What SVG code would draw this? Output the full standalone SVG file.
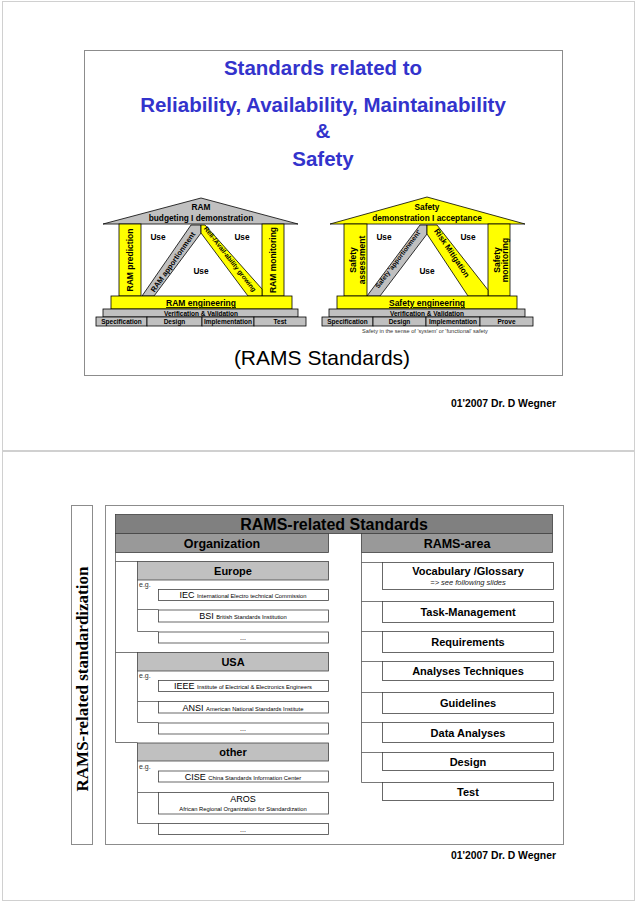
<svg xmlns="http://www.w3.org/2000/svg" width="638" height="903" viewBox="0 0 638 903">
<style>
text{font-family:"Liberation Sans",Arial,sans-serif;fill:#000}
.b{font-weight:bold}
.mid{text-anchor:middle}
.title{font-size:20.5px;font-weight:bold;fill:#3333cc;text-anchor:middle}
.page{fill:#fff;stroke:#d0d0d0;stroke-width:1}
.frame{fill:none;stroke:#8c8c8c;stroke-width:1}
.ln{fill:none;stroke:#000;stroke-width:0.8}
.yel{fill:#ffff00;stroke:#000;stroke-width:0.8}
.gry{fill:#c0c0c0;stroke:#000;stroke-width:0.8}
.foot{font-size:10.4px;font-weight:bold;text-anchor:end}
.hs{font-size:7px;font-weight:bold;text-anchor:middle}
.use{font-size:8.3px;font-weight:bold;text-anchor:middle}
.box{fill:#fff;stroke:#444;stroke-width:0.8}
.hdr{fill:#c0c0c0;stroke:#444;stroke-width:0.8}
.br{fill:none;stroke:#555;stroke-width:0.8}
.rc{font-size:11px;font-weight:bold;text-anchor:middle}
.org{font-size:9px;text-anchor:middle}
.sub{font-size:5.8px}
.eg{font-size:7px;fill:#333}
</style>
<rect class="page" x="2.5" y="1.5" width="632" height="449"/>
<rect class="page" x="2.5" y="451.5" width="632" height="449"/>

<!-- Slide 1 -->
<rect class="frame" x="84.5" y="50.5" width="478" height="325"/>
<g id="title1">
<text class="title" x="323" y="74.5">Standards related to</text>
<text class="title" x="323" y="111.5">Reliability, Availability, Maintainability</text>
<text class="title" x="323" y="137.5">&amp;</text>
<text class="title" x="323" y="165.5">Safety</text>
</g>

<g id="ram-house">
<polygon class="gry" points="103,224 201,198 298,224"/>
<text class="hs" x="201" y="210" style="font-size:8.3px">RAM</text>
<text class="hs" x="201" y="221" style="font-size:8.3px">budgeting I demonstration</text>
<rect class="yel" x="119" y="224" width="22" height="72"/>
<rect class="yel" x="262" y="224" width="22" height="72"/>
<polygon class="gry" points="142,296 191,225 201,225 201,233 154,296"/>
<polygon class="yel" points="201,225 205,225 262,289 262,296 248,296 201,233"/>
<text class="b mid" style="font-size:8.5px" transform="translate(130,260) rotate(-90)" y="3">RAM prediction</text>
<text class="b mid" style="font-size:8.5px" transform="translate(273,260) rotate(-90)" y="3">RAM monitoring</text>
<text class="b mid" style="font-size:7.5px" transform="translate(173,262) rotate(-55)" y="2.5">RAM apportionment</text>
<text class="b mid" style="font-size:6.6px" transform="translate(230,259) rotate(52)" y="2.3">Reli-/Avail-ability growing</text>
<text class="use" x="158" y="240">Use</text>
<text class="use" x="242" y="240">Use</text>
<text class="use" x="201" y="274">Use</text>
<rect class="yel" x="111" y="296" width="181" height="13"/>
<text class="b mid" style="font-size:8.5px;text-decoration:underline" x="201" y="306">RAM engineering</text>
<rect class="gry" x="103" y="309" width="195" height="8"/>
<text class="hs" style="font-size:6.5px" x="201" y="315.5">Verification &amp; Validation</text>
<rect class="gry" x="96" y="317" width="51" height="9"/>
<rect class="gry" x="147" y="317" width="55" height="9"/>
<rect class="gry" x="202" y="317" width="52" height="9"/>
<rect class="gry" x="254" y="317" width="52" height="9"/>
<text class="hs" style="font-size:6.5px" x="121.5" y="324">Specification</text>
<text class="hs" style="font-size:6.5px" x="174.5" y="324">Design</text>
<text class="hs" style="font-size:6.5px" x="228" y="324">Implementation</text>
<text class="hs" style="font-size:6.5px" x="280" y="324">Test</text>
</g>

<g id="safety-house">
<polygon class="yel" points="330,224 427,197 525,224"/>
<text class="hs" x="427" y="210" style="font-size:8.3px">Safety</text>
<text class="hs" x="427" y="221" style="font-size:8.3px">demonstration I acceptance</text>
<rect class="yel" x="344" y="224" width="23" height="72"/>
<rect class="yel" x="488" y="224" width="22" height="72"/>
<polygon class="gry" points="367,296 420,225 427,225 427,234 380,296"/>
<polygon class="yel" points="427,225 437,225 488,290 488,296 468,296 427,234"/>
<g transform="translate(355.5,260) rotate(-90)">
<text class="b mid" style="font-size:8.5px" y="0.5">Safety</text>
<text class="b mid" style="font-size:8.5px" y="9">assessment</text>
</g>
<g transform="translate(499,260) rotate(-90)">
<text class="b mid" style="font-size:8.5px" y="0.5">Safety</text>
<text class="b mid" style="font-size:8.5px" y="9">monitoring</text>
</g>
<text class="b mid" style="font-size:6.6px" transform="translate(398,259) rotate(-53)" y="2.3">Safety 'apportionment'</text>
<text class="b mid" style="font-size:8px" transform="translate(452,253) rotate(56)" y="2.8">Risk Mitigation</text>
<text class="use" x="384" y="240">Use</text>
<text class="use" x="468" y="240">Use</text>
<text class="use" x="427" y="274">Use</text>
<rect class="yel" x="337" y="296" width="180" height="13"/>
<text class="b mid" style="font-size:8.5px;text-decoration:underline" x="427" y="306">Safety engineering</text>
<rect class="gry" x="329" y="309" width="196" height="8"/>
<text class="hs" style="font-size:6.5px" x="427" y="315.5">Verification &amp; Validation</text>
<rect class="gry" x="322" y="317" width="51" height="9"/>
<rect class="gry" x="373" y="317" width="53" height="9"/>
<rect class="gry" x="426" y="317" width="54" height="9"/>
<rect class="gry" x="480" y="317" width="53" height="9"/>
<text class="hs" style="font-size:6.5px" x="347.5" y="324">Specification</text>
<text class="hs" style="font-size:6.5px" x="399.5" y="324">Design</text>
<text class="hs" style="font-size:6.5px" x="453" y="324">Implementation</text>
<text class="hs" style="font-size:6.5px" x="506.5" y="324">Prove</text>
<text class="mid" style="font-size:5.6px;fill:#333" x="425" y="333">Safety in the sense of 'system' or 'functional' safety</text>
</g>

<text class="mid" style="font-size:21px" x="322" y="364.5">(RAMS Standards)</text>
<text class="foot" x="556" y="407">01'2007 Dr. D Wegner</text>

<!-- Slide 2 -->
<rect class="frame" x="105.5" y="505.5" width="458" height="339"/>
<g id="side-label">
<rect class="frame" x="71.5" y="505.5" width="21" height="339"/>
<text style="font-family:'Liberation Serif','Times New Roman',serif;font-size:17px;font-weight:bold" text-anchor="middle" transform="translate(82,679) rotate(-90)" y="6">RAMS-related standardization</text>
</g>

<g id="header">
<rect x="115.5" y="514.5" width="437" height="19" fill="#808080" stroke="#404040" stroke-width="0.8"/>
<text class="b mid" style="font-size:16px" x="334" y="529.5">RAMS-related Standards</text>
<rect x="115.5" y="533.5" width="213" height="19" fill="#999" stroke="#404040" stroke-width="0.8"/>
<text class="b mid" style="font-size:12.5px" x="222" y="547.5">Organization</text>
<rect x="361.5" y="533.5" width="191" height="19" fill="#999" stroke="#404040" stroke-width="0.8"/>
<text class="b mid" style="font-size:12.5px" x="457" y="547.5">RAMS-area</text>
</g>

<g id="connectors">
<path class="br" d="M115.5,552.5 V742.5 M115.5,561.5 H137.5 M115.5,652.5 H137.5 M115.5,742.5 H137.5"/>
<path class="br" d="M137.5,580 V631.5 H158.5 M137.5,609.5 H158.5"/>
<path class="br" d="M137.5,671 V722.5 H158.5 M137.5,701.5 H158.5"/>
<path class="br" d="M137.5,761 V823.5 H158.5 M137.5,792.5 H158.5"/>
<path class="br" d="M361.5,552.5 V782.5 M361.5,562.5 H382.5 M361.5,601.5 H382.5 M361.5,631.5 H382.5 M361.5,661.5 H382.5 M361.5,692.5 H382.5 M361.5,722.5 H382.5 M361.5,752.5 H382.5 M361.5,782.5 H382.5"/>
</g>

<g id="europe">
<rect class="hdr" x="137.5" y="561.5" width="191" height="18.5"/>
<text class="rc" x="233" y="575">Europe</text>
<text class="eg" x="139" y="587">e.g.</text>
</g>
<g id="iec"><rect class="box" x="158.5" y="589.5" width="170" height="11"/>
<text class="org" x="243" y="598.3">IEC <tspan class="sub">International Electro technical Commission</tspan></text></g>
<g id="bsi"><rect class="box" x="158.5" y="610" width="170" height="12"/>
<text class="org" x="243" y="619.3">BSI <tspan class="sub">British Standards Institution</tspan></text></g>
<g id="eu-more"><rect class="box" x="158.5" y="632" width="170" height="11"/>
<text class="org" style="font-size:7px" x="243" y="640">...</text></g>

<g id="usa">
<rect class="hdr" x="137.5" y="652.5" width="191" height="18.5"/>
<text class="rc" x="233" y="666">USA</text>
<text class="eg" x="139" y="678">e.g.</text>
</g>
<g id="ieee"><rect class="box" x="158.5" y="680.5" width="170" height="11"/>
<text class="org" x="243" y="689.3">IEEE <tspan class="sub">Institute of Electrical &amp; Electronics Engineers</tspan></text></g>
<g id="ansi"><rect class="box" x="158.5" y="701.5" width="170" height="11.5"/>
<text class="org" x="243" y="710.5">ANSI <tspan class="sub">American National Standards Institute</tspan></text></g>
<g id="usa-more"><rect class="box" x="158.5" y="723" width="170" height="11"/>
<text class="org" style="font-size:7px" x="243" y="731">...</text></g>

<g id="other">
<rect class="hdr" x="137.5" y="743" width="191" height="18"/>
<text class="rc" x="233" y="756">other</text>
<text class="eg" x="139" y="769">e.g.</text>
</g>
<g id="cise"><rect class="box" x="158.5" y="771" width="170" height="11"/>
<text class="org" x="243" y="779.8">CISE <tspan class="sub">China Standards Information Center</tspan></text></g>
<g id="aros"><rect class="box" x="158.5" y="792.5" width="170" height="21.5"/>
<text class="org" x="243" y="801.5">AROS</text>
<text class="sub mid" x="243" y="810.5">African Regional Organization for Standardization</text></g>
<g id="other-more"><rect class="box" x="158.5" y="823.5" width="170" height="11"/>
<text class="org" style="font-size:7px" x="243" y="831.5">...</text></g>

<g id="vocab"><rect class="box" x="382.5" y="562.5" width="171" height="27"/>
<text class="rc" x="468" y="574.5">Vocabulary /Glossary</text>
<text class="mid" style="font-size:7.5px;font-style:italic;fill:#222" x="468" y="584.5">=&gt; see following slides</text></g>
<g id="task"><rect class="box" x="382.5" y="601.5" width="171" height="21"/>
<text class="rc" x="468" y="616">Task-Management</text></g>
<g id="req"><rect class="box" x="382.5" y="631.5" width="171" height="21"/>
<text class="rc" x="468" y="646">Requirements</text></g>
<g id="analyses"><rect class="box" x="382.5" y="661.5" width="171" height="19"/>
<text class="rc" x="468" y="675">Analyses Techniques</text></g>
<g id="guidelines"><rect class="box" x="382.5" y="692.5" width="171" height="21"/>
<text class="rc" x="468" y="706.5">Guidelines</text></g>
<g id="data"><rect class="box" x="382.5" y="722.5" width="171" height="20"/>
<text class="rc" x="468" y="736.5">Data Analyses</text></g>
<g id="design"><rect class="box" x="382.5" y="752.5" width="171" height="18"/>
<text class="rc" x="468" y="765.5">Design</text></g>
<g id="test"><rect class="box" x="382.5" y="782.5" width="171" height="18"/>
<text class="rc" x="468" y="795.5">Test</text></g>

<text class="foot" x="556" y="859">01'2007 Dr. D Wegner</text>
</svg>
